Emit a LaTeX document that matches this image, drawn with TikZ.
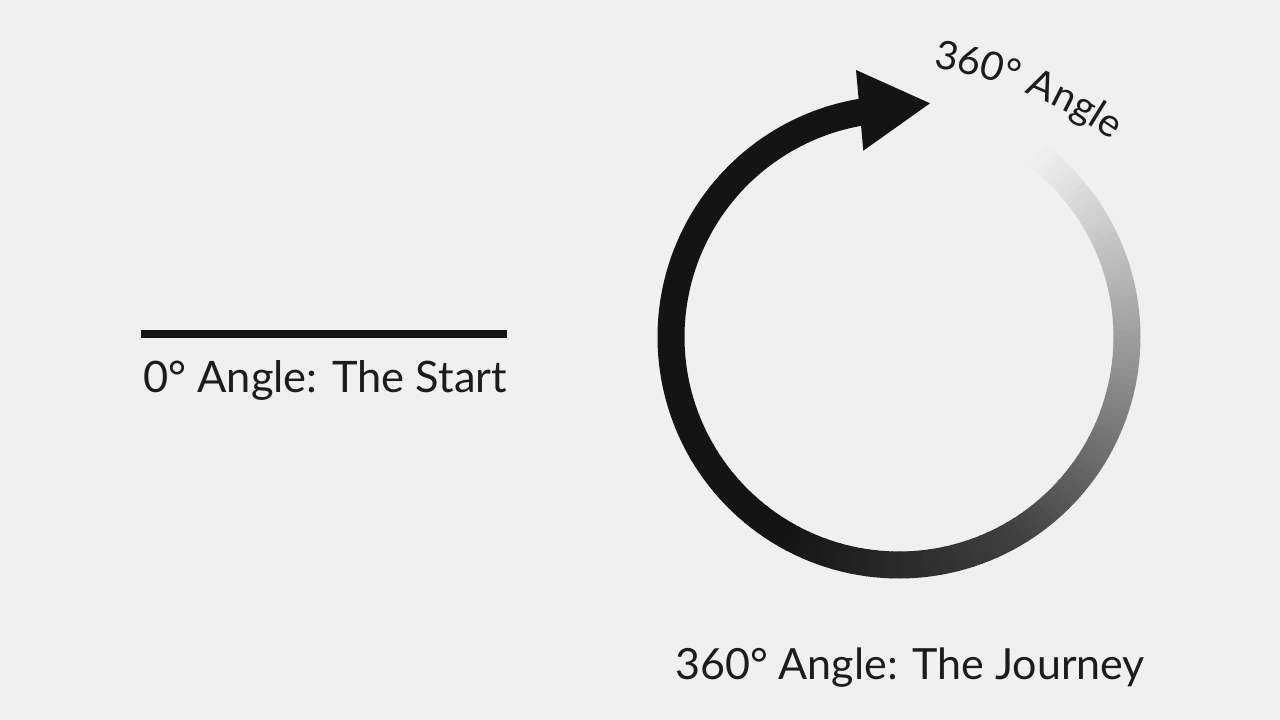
\documentclass[tikz,border=0pt]{standalone}
\usepackage{fontspec}
\setmainfont{Lato}
\usetikzlibrary{decorations.text}
\definecolor{bgc}{HTML}{F0F0F0}
\definecolor{inkc}{HTML}{141414}
\definecolor{txtc}{HTML}{1C1C1C}
\newcommand\lblfont{\fontsize{43}{48}\selectfont}
\newcommand\startfont{\fontsize{43.4}{48}\selectfont}
\newcommand\arcfont{\fontsize{39.5}{44}\selectfont}
\begin{document}
\begin{tikzpicture}[x=1pt,y=1pt]
\fill[bgc] (0,0) rectangle (1280,720);
\useasboundingbox (0,0) rectangle (1280,720);
% left: 0 degree
\coordinate (ls) at (141,386);
\coordinate (le) at (507,386);
\draw[line width=8pt, inkc] (ls) -- (le);
\node[anchor=base west, inner sep=0pt, font=\startfont, text=txtc] (lt) at (143,327) {0° Angle: The Start};
% ring
\coordinate (c) at (899,383);
\foreach \i in {0,...,100} {
  \pgfmathsetmacro\a{-150+2*\i}
  \pgfmathsetmacro\s{(52-(\a+1))/202}
  \pgfmathsetmacro\p{100*min(1,min(1.45*\s,0.43+0.67*\s))}
  \draw[line width=27pt, color=inkc!\p!bgc] ([shift={(\a:228)}]c) arc[start angle=\a, end angle=\a+2.3, radius=228];
}
\draw[line width=27pt, inkc] ([shift={(97:228)}]c) arc[start angle=97, end angle=211, radius=228];
\coordinate (h1) at (856,650);
\coordinate (h2) at (930,616.7);
\coordinate (h3) at (863.3,569.3);
\fill[inkc] (h1) -- (h2) -- (h3) -- cycle;
% curved label
\coordinate (tc) at (866.5,231.7);
\path[decorate, decoration={text along path, text color=txtc, text={|\arcfont|360° Angle}, text align=left}] ([shift={(81:426)}]tc) arc[start angle=81, end angle=40, radius=426];
% bottom label
\node[anchor=base west, inner sep=0pt, font=\lblfont, text=txtc] (bt) at (675,40) {360° Angle: The Journey};
\end{tikzpicture}
\end{document}
